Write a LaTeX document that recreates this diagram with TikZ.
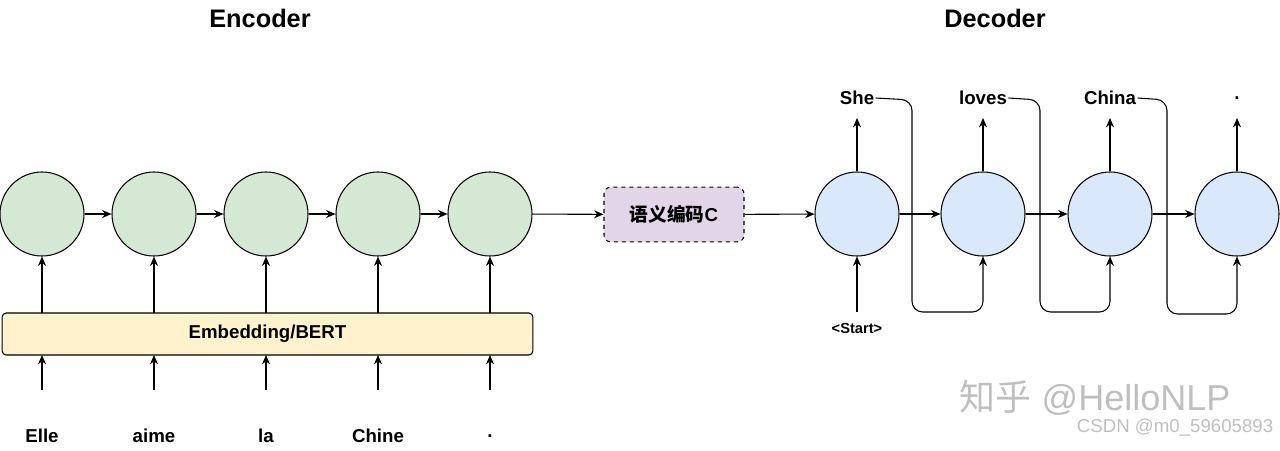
\documentclass[tikz,border=0pt]{standalone}
\usepackage{fontspec}
\setmainfont{Liberation Sans}
\newfontfamily\cjk{Noto Sans CJK SC}
\usetikzlibrary{arrows.meta}
\definecolor{encg}{HTML}{D5E8D4}
\definecolor{decb}{HTML}{DAE8FC}
\definecolor{embY}{HTML}{FFF2CC}
\definecolor{cP}{HTML}{E1D5E7}
\begin{document}
\begin{tikzpicture}[x=0.75pt,y=-0.75pt,
  enc/.style={circle,draw,line width=0.8pt,fill=encg,minimum size=63pt,inner sep=0},
  dec/.style={circle,draw,line width=0.8pt,fill=decb,minimum size=63pt,inner sep=0},
  word/.style={font=\bfseries\fontsize{14}{16}\selectfont,inner sep=1pt},
  arr/.style={-{Stealth[length=7pt,width=6pt]},line width=0.8pt},
  fb/.style={arr,rounded corners=8pt}]
\useasboundingbox (0,0) rectangle (1280,450);
\node[font=\bfseries\fontsize{19}{22}\selectfont] (te) at (260,18) {Encoder};
\node[font=\bfseries\fontsize{19}{22}\selectfont] (td) at (995,18) {Decoder};
\node[draw,line width=0.8pt,fill=embY,rounded corners=3pt,minimum width=398pt,minimum height=31.5pt,inner sep=0,font=\bfseries\fontsize{14}{16}\selectfont] (emb) at (267.5,334) {Embedding/BERT};
\foreach \i/\x/\w in {1/42/Elle,2/154/aime,3/266/la,4/378/Chine,5/490/.}{
  \node[enc] (e\i) at (\x,214) {};
  \node[word] (w\i) at (\x,436) {\w};
  \coordinate (b\i) at (\x,313);
  \coordinate (s\i) at (\x,390);
  \coordinate (t\i) at (\x,355);
  \draw[arr] (b\i) -- (e\i);
  \draw[arr] (s\i) -- (t\i);
}
\foreach \i/\j in {1/2,2/3,3/4,4/5}{\draw[arr] (e\i) -- (e\j);}
\node[draw,dashed,line width=0.8pt,fill=cP,rounded corners=5pt,minimum width=105pt,minimum height=41pt,inner sep=0,font=\bfseries\fontsize{14}{16}\selectfont] (c) at (674,214.5) {{\cjk\bfseries 语义编码}C};
\draw[arr] (e5) -- (c);
\foreach \i/\x/\w in {1/857/She,2/983/loves,3/1110/China,4/1237/.}{
  \node[dec] (d\i) at (\x,214) {};
  \node[word] (o\i) at (\x,98) {\w};
  \coordinate (u\i) at (\x,118);
  \draw[arr] (d\i) -- (u\i);
}
\draw[arr] (c) -- (d1);
\foreach \i/\j in {1/2,2/3,3/4}{\draw[arr] (d\i) -- (d\j);}
\node[font=\bfseries\fontsize{11}{13}\selectfont] (st) at (857,328) {<Start>};
\coordinate (sb) at (857,312);
\draw[arr] (sb) -- (d1);
\draw[fb] (o1.east) -- (912,100) -- (912,312) -- (983,312) -- (d2.south);
\draw[fb] (o2.east) -- (1040,100) -- (1040,312) -- (1110,312) -- (d3.south);
\draw[fb] (o3.east) -- (1167,100) -- (1167,314) -- (1237,314) -- (d4.south);
\node[text=black!25,font=\fontsize{27}{30}\selectfont,anchor=west] (wm1) at (955,398) {{\cjk 知乎} @HelloNLP};
\node[text=black!25,font=\fontsize{14}{16}\selectfont,anchor=east] (wm2) at (1278,428) {CSDN @m0\_59605893};
\end{tikzpicture}
\end{document}
